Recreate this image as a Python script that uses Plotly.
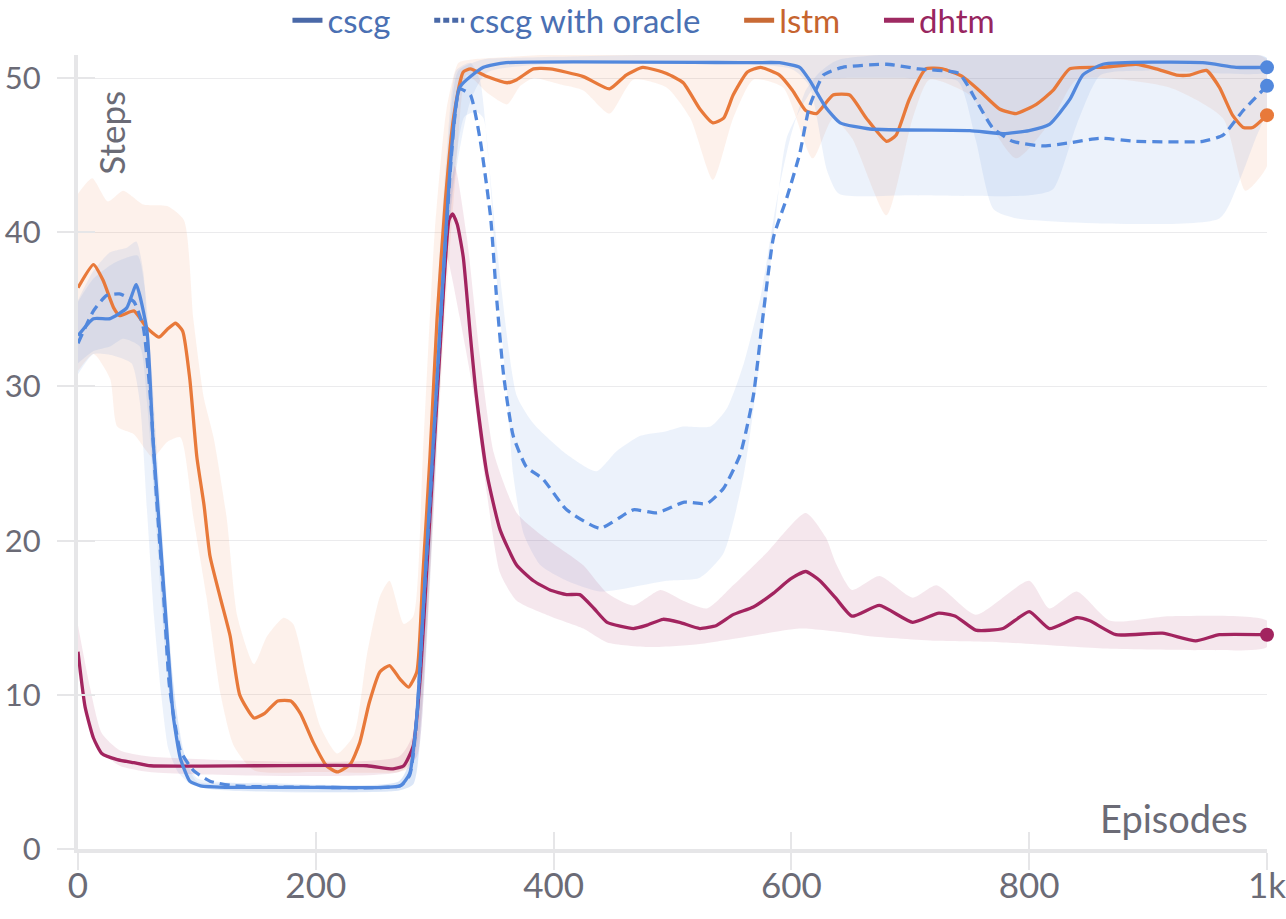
import plotly.graph_objects as go

# --- data (episodes vs. steps) ---
cscg_x = [0, 13, 27, 41, 49, 58, 63, 69, 75, 80, 86, 94, 103, 130, 200, 271, 279, 285, 290, 296, 302, 310,
          321, 341, 360, 565, 590, 607, 615, 629, 641, 666, 750, 778, 800, 817, 834, 845, 862, 946, 974, 1000]
cscg_y = [33.3, 34.4, 34.4, 35.1, 36.6, 33.6, 26.7, 20.3, 13.8, 8.7, 5.9, 4.4, 4.1, 4.0, 4.0, 4.1, 4.9, 8.7, 15.1, 22.8, 30.5, 40.8,
          49.4, 50.7, 51.0, 51.0, 51.0, 50.7, 49.9, 48.1, 47.1, 46.7, 46.6, 46.4, 46.6, 47.0, 48.6, 50.2, 50.9, 51.0, 50.7, 50.7]
cscg_hi_x = [0, 13, 27, 41, 49, 55, 61, 68, 75, 82, 90, 100, 150, 270, 280, 290, 300, 310, 320, 340, 360, 1000]
cscg_hi = [35.6, 37.5, 38.7, 39.0, 39.4, 37.4, 30.0, 22.0, 15.0, 9.5, 6.0, 4.4, 4.3, 4.4, 6.0, 17.0, 33.0, 44.0, 50.5, 51.2, 51.3, 51.3]
cscg_lo_x = [0, 13, 27, 38, 52, 58, 64, 70, 76, 84, 95, 110, 270, 282, 290, 298, 306, 316, 330, 345, 600, 615, 630,
             640, 700, 800, 820, 840, 860, 900, 1000]
cscg_lo = [31.5, 32.3, 32.6, 33.1, 32.6, 29.0, 23.0, 16.0, 10.5, 6.5, 4.5, 3.9, 3.8, 4.2, 10.0, 21.0, 33.0, 43.0, 48.5, 50.4, 50.6, 49.5, 44.0,
           42.5, 42.4, 42.4, 42.8, 47.0, 50.2, 50.5, 50.4]

oracle_x = [0, 13, 24, 35, 47, 55, 61, 66, 72, 77, 86, 97, 111, 131, 200, 271, 279, 285, 290, 296, 302, 310, 321, 330,
            338, 347, 352, 358, 366, 377, 391, 411, 439, 467, 487, 510, 529, 543, 557, 568, 576, 585, 596, 607, 615,
            627, 643, 680, 707, 741, 755, 769, 786, 811, 834, 859, 890, 946, 963, 980, 1000]
oracle_y = [32.8, 34.9, 35.9, 36.0, 35.5, 33.8, 29.2, 22.8, 16.4, 10.5, 6.4, 5.1, 4.4, 4.1, 4.0, 4.1, 4.8, 8.5, 15.0, 22.5, 30.3, 40.5, 49.3, 48.9,
            46.1, 41.0, 35.8, 30.7, 26.8, 24.8, 24.0, 22.0, 20.8, 22.0, 21.8, 22.5, 22.4, 23.4, 25.6, 29.4, 34.5, 39.7, 42.2, 45.1, 48.1,
            50.2, 50.7, 50.9, 50.6, 50.3, 48.6, 46.8, 45.9, 45.6, 45.8, 46.1, 45.9, 45.9, 46.3, 47.9, 49.5]
oracle_hi_x = [0, 13, 30, 50, 56, 62, 68, 74, 80, 88, 100, 130, 270, 280, 288, 295, 302, 310, 318, 330, 338, 345, 355, 369,
               383, 411, 436, 453, 473, 495, 509, 532, 546, 560, 574, 588, 599, 612, 624, 640, 1000]
oracle_hi = [35.5, 37.0, 38.0, 38.5, 36.5, 31.0, 24.0, 17.0, 11.0, 6.5, 4.6, 4.3, 4.4, 6.0, 14.0, 25.0, 36.0, 45.0, 50.5, 51.0, 49.9, 45.0, 37.1, 29.4,
             27.6, 25.6, 24.5, 25.8, 26.8, 27.1, 27.4, 27.4, 28.6, 31.5, 35.8, 42.2, 46.1, 49.2, 50.4, 51.2, 51.3]
oracle_lo_x = [0, 13, 30, 45, 52, 58, 64, 70, 76, 84, 95, 110, 130, 270, 282, 290, 298, 306, 314, 325, 335, 341, 352, 361,
               366, 375, 389, 411, 439, 467, 495, 523, 543, 560, 574, 585, 596, 612, 624, 640, 700, 740, 755, 770, 790,
               960, 975, 990, 1000]
oracle_lo = [30.8, 32.1, 32.0, 31.5, 29.0, 22.0, 15.0, 10.0, 6.5, 5.0, 4.2, 3.9, 3.8, 3.8, 4.2, 9.0, 20.0, 32.0, 42.0, 47.5, 47.8, 47.4, 37.1, 29.4,
             24.3, 20.4, 18.4, 17.4, 16.7, 17.0, 17.4, 17.6, 19.2, 24.3, 32.0, 39.7, 46.1, 48.6, 49.9, 50.0, 50.0, 49.8, 46.0, 41.5, 40.9,
             40.9, 43.0, 46.0, 48.0]

lstm_x = [0, 13, 21, 30, 35, 47, 58, 68, 75, 82, 88, 94, 100, 106, 111, 120, 128, 136, 148, 157, 168, 179, 187, 198,
          209, 218, 229, 237, 245, 254, 262, 271, 278, 285, 290, 296, 302, 309, 316, 324, 330, 344, 361, 369, 383, 397,
          425, 447, 461, 475, 495, 509, 523, 534, 543, 551, 563, 574, 590, 601, 612, 621, 635, 649, 663, 680, 688, 699,
          713, 727, 744, 758, 775, 789, 806, 820, 834, 862, 890, 907, 924, 935, 949, 960, 971, 980, 988, 1000]
lstm_y = [36.4, 37.9, 36.9, 35.1, 34.6, 34.9, 33.8, 33.2, 33.7, 34.1, 33.6, 30.5, 25.4, 22.3, 19.0, 16.2, 13.8, 10.0, 8.5, 8.8, 9.6, 9.6, 8.8, 6.9,
          5.4, 5.0, 5.5, 6.9, 9.5, 11.5, 11.9, 11.0, 10.5, 11.5, 17.7, 25.4, 34.4, 42.1, 47.5, 50.4, 50.6, 50.1, 49.7, 49.9, 50.6, 50.6,
          50.1, 49.3, 50.2, 50.7, 50.3, 49.7, 48.0, 47.1, 47.4, 48.9, 50.4, 50.7, 50.2, 49.2, 47.9, 47.7, 48.9, 48.9, 47.4, 45.9, 46.3, 48.6,
          50.6, 50.6, 50.1, 49.2, 48.0, 47.7, 48.3, 49.2, 50.6, 50.7, 50.9, 50.6, 50.2, 50.2, 50.5, 49.4, 47.6, 46.8, 46.8, 47.6]
lstm_hi_x = [0, 12, 25, 38, 55, 75, 89, 97, 106, 114, 125, 134, 148, 159, 173, 181, 192, 204, 218, 232, 243, 254, 262,
             274, 282, 290, 300, 310, 320, 330, 1000]
lstm_hi = [42.5, 43.5, 42.0, 42.7, 41.8, 41.7, 40.8, 34.4, 29.2, 26.7, 21.5, 15.1, 12.0, 13.8, 15.0, 14.6, 11.3, 7.9, 6.2, 7.4, 12.6, 16.4, 17.4,
           14.6, 15.1, 25.4, 40.0, 48.0, 51.0, 51.2, 51.2]
lstm_lo_x = [0, 13, 27, 33, 47, 63, 75, 86, 97, 108, 120, 131, 148, 200, 270, 280, 288, 295, 302, 310, 318, 327, 345,
             361, 372, 383, 405, 425, 447, 467, 495, 515, 534, 551, 568, 593, 618, 635, 651, 680, 702, 716, 750, 789,
             820, 840, 918, 963, 982, 1000]
lstm_lo = [31.0, 32.1, 30.5, 27.4, 26.9, 25.4, 26.4, 26.7, 21.5, 16.4, 10.0, 6.7, 5.1, 5.0, 5.0, 5.3, 8.0, 16.0, 26.0, 36.0, 44.0, 50.2, 49.0,
           48.3, 49.5, 50.0, 49.6, 49.2, 47.7, 49.9, 49.4, 47.4, 43.4, 47.4, 49.9, 49.4, 44.8, 47.4, 46.1, 41.1, 47.4, 49.9, 48.9, 44.8,
           47.4, 49.9, 49.4, 47.4, 42.7, 44.3]

dhtm_x = [0, 6, 13, 20, 33, 47, 61, 150, 243, 265, 274, 282, 288, 293, 299, 305, 312, 315, 319, 324, 330, 335, 344,
          355, 369, 383, 397, 411, 422, 434, 445, 467, 478, 492, 506, 523, 537, 551, 568, 585, 599, 612, 624, 637, 651,
          674, 702, 724, 738, 755, 778, 800, 817, 840, 851, 873, 912, 940, 960, 1000]
dhtm_y = [12.8, 9.2, 7.2, 6.2, 5.8, 5.6, 5.4, 5.4, 5.4, 5.2, 5.4, 6.7, 11.3, 17.7, 25.4, 33.1, 40.8, 41.2, 40.5, 38.4, 33.3, 29.4, 24.3,
          20.7, 18.4, 17.4, 16.8, 16.5, 16.5, 15.6, 14.7, 14.3, 14.5, 14.9, 14.7, 14.3, 14.5, 15.2, 15.7, 16.6, 17.5, 18.0, 17.4, 16.3, 15.1,
          15.8, 14.7, 15.3, 15.1, 14.2, 14.3, 15.4, 14.3, 15.0, 14.8, 13.9, 14.0, 13.5, 13.9, 13.9]
dhtm_hi_x = [0, 10, 20, 35, 60, 270, 282, 290, 297, 305, 312, 317, 327, 338, 350, 369, 389, 411, 425, 445, 467, 490,
             509, 529, 551, 579, 612, 629, 637, 651, 674, 702, 722, 755, 800, 817, 840, 868, 918, 1000]
dhtm_hi = [14.5, 10.5, 7.5, 6.4, 6.0, 6.0, 7.5, 13.0, 22.0, 34.0, 42.0, 44.3, 39.7, 32.0, 25.6, 21.8, 20.4, 19.2, 18.4, 16.6, 15.8, 16.8,
           16.1, 15.6, 17.1, 19.2, 21.8, 20.2, 18.6, 16.8, 17.7, 16.3, 17.1, 15.2, 17.4, 15.6, 16.7, 14.8, 15.1, 14.8]
dhtm_lo_x = [0, 10, 20, 35, 60, 270, 285, 292, 300, 310, 321, 333, 344, 355, 369, 397, 425, 445, 481, 523, 565, 607,
             649, 666, 722, 778, 862, 946, 1000]
dhtm_lo = [11.5, 8.0, 6.3, 5.4, 5.0, 5.0, 6.0, 12.0, 24.0, 38.4, 34.5, 29.4, 23.0, 17.9, 16.1, 15.1, 14.3, 13.4, 13.1, 13.3, 13.8, 14.3,
           14.0, 13.8, 13.5, 13.4, 13.0, 12.9, 13.1]

x_ticks = [0, 200, 400, 600, 800, 1000]
x_tick_text = ["0", "200", "400", "600", "800", "1k"]
y_ticks = [0, 10, 20, 30, 40, 50]

FONT = "Lato"
TICK_COLOR = "#6b6b76"
AXIS_COLOR = "#e6e6e8"

blue = "#5288dd"
orange = "#e8793a"
purple = "#a2245f"

GAP = "&nbsp;" * 4  # extra room after a legend entry


def band(fig, hx, hy, lx, ly, rgba):
    # closed polygon: upper edge left->right, lower edge right->left
    fig.add_trace(go.Scatter(
        x=hx + lx[::-1], y=hy + ly[::-1], fill="toself", fillcolor=rgba,
        line=dict(width=0, shape="spline", smoothing=0.6), mode="lines",
        hoverinfo="skip", showlegend=False))


def line(fig, x, y, color, dash="solid"):
    fig.add_trace(go.Scatter(
        x=x, y=y, mode="lines", showlegend=False,
        line=dict(color=color, width=3.3, dash=dash, shape="spline", smoothing=0.5)))
    fig.add_trace(go.Scatter(
        x=[x[-1]], y=[y[-1]], mode="markers", showlegend=False, cliponaxis=False,
        marker=dict(color=color, size=14)))


def legend_entry(fig, name, text_color, sym_color, dash="solid", tail=GAP):
    fig.add_trace(go.Scatter(
        x=[None], y=[None], mode="lines",
        name=f"<span style='color:{text_color}'>{name}</span>{tail}",
        line=dict(color=sym_color, width=5, dash=dash)))


def main():
    fig = go.Figure()

    band(fig, lstm_hi_x, lstm_hi, lstm_lo_x, lstm_lo, "rgba(232,121,58,0.10)")
    band(fig, cscg_hi_x, cscg_hi, cscg_lo_x, cscg_lo, "rgba(82,136,221,0.11)")
    band(fig, oracle_hi_x, oracle_hi, oracle_lo_x, oracle_lo, "rgba(82,136,221,0.11)")
    band(fig, dhtm_hi_x, dhtm_hi, dhtm_lo_x, dhtm_lo, "rgba(162,36,95,0.11)")

    line(fig, lstm_x, lstm_y, orange)
    line(fig, dhtm_x, dhtm_y, purple)
    line(fig, oracle_x, oracle_y, blue, dash="10px,6px")
    line(fig, cscg_x, cscg_y, blue)

    legend_entry(fig, "cscg", "#4a70b3", "#4a69a8")
    legend_entry(fig, "cscg with oracle", "#4a70b3", "#4a69a8", dash="6px,3px")
    legend_entry(fig, "lstm", "#c6642f", "#c96a35")
    legend_entry(fig, "dhtm", "#98265f", "#9e2a62", tail="")

    # invisible trace so the overlay axes (inner half of the ticks) get drawn
    fig.add_trace(go.Scatter(x=[None], y=[None], xaxis="x2", yaxis="y2", showlegend=False))

    fig.update_layout(
        width=1286, height=919,
        margin=dict(l=78, r=19, t=55, b=70, autoexpand=False),
        plot_bgcolor="white", paper_bgcolor="white",
        font=dict(family=FONT, color=TICK_COLOR, size=34),
        showlegend=True,
        legend=dict(orientation="h", x=0.476, y=1.079,
                    xanchor="center", yanchor="top", font=dict(size=33, family=FONT),
                    itemwidth=30, tracegroupgap=0, bgcolor="rgba(0,0,0,0)"),
        xaxis=dict(range=[0, 1000], tickvals=x_ticks, ticktext=x_tick_text, automargin=False,
                   showgrid=False, zeroline=False, showline=True, linecolor=AXIS_COLOR, linewidth=4,
                   ticks="outside", ticklen=17, tickwidth=2, tickcolor=AXIS_COLOR,
                   ticklabelstandoff=-14, ticklabeloverflow="allow",
                   tickfont=dict(size=35, color=TICK_COLOR)),
        yaxis=dict(range=[0, 51.5], tickvals=y_ticks, automargin=False,
                   showgrid=True, gridcolor="#ebebed", gridwidth=1, zeroline=False,
                   showline=True, linecolor=AXIS_COLOR, linewidth=4,
                   ticks="outside", ticklen=17, tickwidth=2, tickcolor=AXIS_COLOR,
                   ticklabelstandoff=10, ticklabeloverflow="allow",
                   tickfont=dict(size=31, color=TICK_COLOR)),
        xaxis2=dict(overlaying="x", range=[0, 1000], tickvals=x_ticks, showticklabels=False,
                    showgrid=False, zeroline=False, showline=False, automargin=False,
                    ticks="inside", ticklen=17, tickwidth=2, tickcolor=AXIS_COLOR),
        yaxis2=dict(overlaying="y", range=[0, 51.5], tickvals=y_ticks, showticklabels=False,
                    showgrid=False, zeroline=False, showline=False, automargin=False,
                    ticks="inside", ticklen=17, tickwidth=2, tickcolor=AXIS_COLOR),
        annotations=[
            dict(text="Steps", xref="paper", yref="paper", x=0.028, y=0.958,
                 xanchor="center", yanchor="top", textangle=-90, showarrow=False,
                 font=dict(size=35, color=TICK_COLOR, family=FONT)),
            dict(text="Episodes", xref="paper", yref="paper", x=0.986, y=0.039,
                 xanchor="right", yanchor="middle", showarrow=False,
                 font=dict(size=38, color=TICK_COLOR, family=FONT)),
        ],
    )

    # drop the default 8px page margin so the figure sits at the window corner
    fig.write_html("out.html", config={"displayModeBar": False},
                   post_script="document.body.style.margin='0';")


if __name__ == '__main__':
    main()
